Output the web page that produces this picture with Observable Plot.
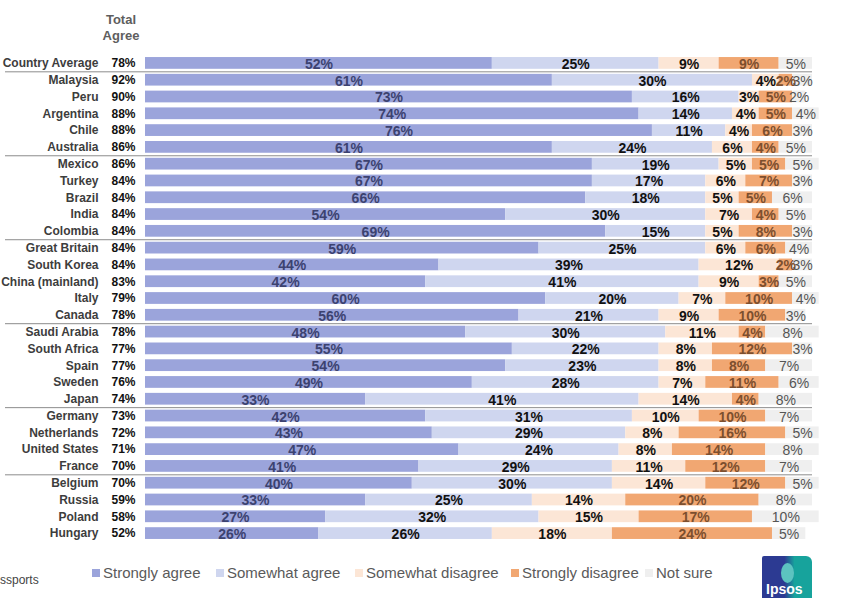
<!DOCTYPE html>
<html><head><meta charset="utf-8">
<script src="https://cdn.jsdelivr.net/npm/d3@7"></script>
<script src="https://cdn.jsdelivr.net/npm/@observablehq/plot@0.6"></script>
<style>
body{margin:0;background:#fff;font-family:"Liberation Sans",Arial,sans-serif;}
#wrap{position:relative;width:850px;height:598px;overflow:hidden;background:#fff;}
#chart{position:absolute;left:0;top:0;}
#hdr{position:absolute;left:96px;top:12px;width:50px;text-align:center;font-weight:bold;font-size:13px;line-height:16px;color:#5e5e5e;}
.lg{position:absolute;top:564px;font-size:15px;color:#5a5a5a;white-space:nowrap;display:flex;align-items:center;}
.lg i{display:inline-block;width:8px;height:8px;margin-right:3px;}
#src{position:absolute;left:0;top:573px;font-size:12px;color:#444;}
#logo{position:absolute;left:762px;top:556px;width:50px;height:46px;background:linear-gradient(90deg,#2c3a92 0%,#2c3a92 45%,#17a39c 65%,#17a39c 100%);border-radius:2px 6px 0 0;}
#logo span{position:absolute;left:4px;top:26px;color:#fff;font-weight:bold;font-size:14px;line-height:14px;}
#logo b{position:absolute;left:19px;top:7px;width:13px;height:20px;border-radius:50%;background:#5cc3c0;}
</style></head><body>
<div id="wrap">
<div id="chart"></div>
<div id="hdr">Total<br>Agree</div>
<div id="legend"></div>
<div id="src">ssports</div>
<div id="logo"><b></b><span>Ipsos</span></div>
</div>
<script>
const countries = ["Country Average","Malaysia","Peru","Argentina","Chile","Australia","Mexico","Turkey","Brazil","India","Colombia","Great Britain","South Korea","China (mainland)","Italy","Canada","Saudi Arabia","South Africa","Spain","Sweden","Japan","Germany","Netherlands","United States","France","Belgium","Russia","Poland","Hungary"];
const totalAgree      = [78,92,90,88,88,86,86,84,84,84,84,84,84,83,79,78,78,77,77,76,74,73,72,71,70,70,59,58,52];
const stronglyAgree   = [52,61,73,74,76,61,67,67,66,54,69,59,44,42,60,56,48,55,54,49,33,42,43,47,41,40,33,27,26];
const somewhatAgree   = [25,30,16,14,11,24,19,17,18,30,15,25,39,41,20,21,30,22,23,28,41,31,29,24,29,30,25,32,26];
const somewhatDisagree= [9,4,3,4,4,6,5,6,5,7,5,6,12,9,7,9,11,8,8,7,14,10,8,8,11,14,14,15,18];
const stronglyDisagree= [9,2,5,5,6,4,5,7,5,4,8,6,2,3,10,10,4,12,8,11,4,10,16,14,12,12,20,17,24];
const notSure         = [5,3,2,4,3,5,5,3,6,5,3,4,3,5,4,3,8,3,7,6,8,7,5,8,7,5,8,10,5];
const categories = ["Strongly agree","Somewhat agree","Somewhat disagree","Strongly disagree","Not sure"];
const groupEnds = ["Country Average","Australia","Colombia","Canada","Japan","France"];

const barColors = ["#9ba4db","#cfd6ef","#fce6d6","#f1a772","#efefef"];
const labelColors = ["#3c4270","#111111","#111111","#7d4f2e","#555555"];
const labelWeights = ["bold","bold","bold","bold","normal"];
const legendLefts = [92,216,355,511,645];

const series = [stronglyAgree, somewhatAgree, somewhatDisagree, stronglyDisagree, notSure];
const table = countries.flatMap((c, i) => categories.map((cat, k) => ({country: c, cat, value: series[k][i]})));

const font = '"Liberation Sans", Arial, sans-serif';
const chart = Plot.plot({
  width: 850, height: 554,
  marginLeft: 145, marginRight: 38, marginTop: 52, marginBottom: 10,
  style: {fontFamily: font, fontSize: "12px", background: "transparent"},
  x: {domain: [0, 100], axis: null},
  y: {domain: countries, padding: 0.3, round: false, axis: null, label: null},
  color: {domain: categories, range: barColors},
  marks: [
    Plot.barX(table, Plot.stackX({x: "value", y: "country", fill: "cat"})),
    ...categories.map((cat, k) => Plot.text(table, Plot.stackX({
      x: "value", y: "country", z: "cat",
      text: d => d.cat === cat ? d.value + "%" : null,
      fill: labelColors[k], fontWeight: labelWeights[k], fontSize: 14, dy: 1
    }))),
    Plot.ruleY(groupEnds, {y: d => d, dy: 8.4, stroke: "#8c8c8c", strokeWidth: 1, insetLeft: -140}),
    Plot.axisY({tickSize: 0, tickPadding: 47, fontWeight: "bold", fill: "#3d3d3d", fontSize: 12, label: null}),
    Plot.text(countries, {y: d => d, text: (d, i) => totalAgree[i] + "%", frameAnchor: "left", textAnchor: "end", dx: -10, fontWeight: "bold", fill: "#111", fontSize: 12})
  ]
});
document.getElementById("chart").appendChild(chart);

const lg = document.getElementById("legend");
categories.forEach((cat, k) => {
  const el = document.createElement("div");
  el.className = "lg";
  el.style.left = legendLefts[k] + "px";
  el.innerHTML = `<i style="background:${barColors[k]}"></i>${cat}`;
  lg.appendChild(el);
});
</script>
</body></html>
